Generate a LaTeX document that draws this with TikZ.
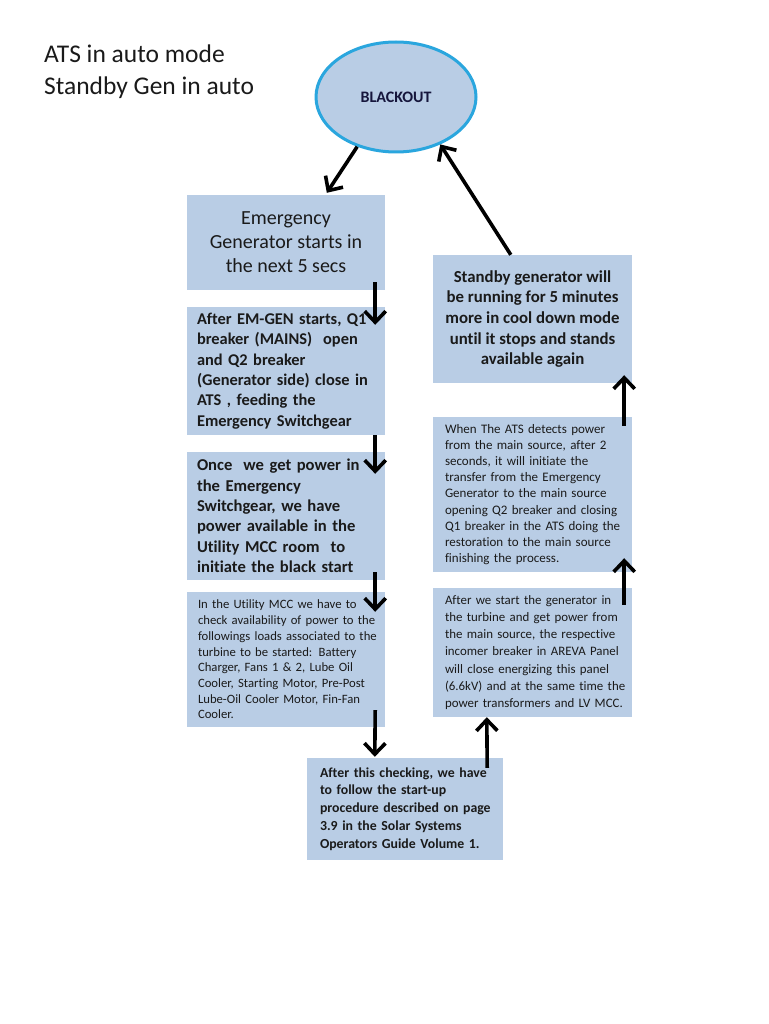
\documentclass[tikz,border=0pt]{standalone}
\usepackage{fontspec}
\setmainfont{Carlito}[Ligatures={NoCommon}]
\usetikzlibrary{shapes.geometric,arrows.meta,calc}
\definecolor{boxfill}{HTML}{B9CDE5}
\definecolor{ellline}{HTML}{2AA6DE}
\definecolor{txt}{HTML}{1A1A1A}
\newcommand\Ln[1]{\mbox{#1}}
\begin{document}
\begin{tikzpicture}[x=1pt,y=-1pt,
  box/.style={fill=boxfill, inner sep=0pt, text=txt},
  arr/.style={line width=3.6pt, -{Straight Barb[length=11pt,width=21pt]}},
  ttl/.style={anchor=base west, inner sep=0pt, font=\fontsize{25.5}{30}\selectfont, text=txt}]
\useasboundingbox (0,0) rectangle (768,1024);
\fill[white] (0,0) rectangle (768,1024);

\node[ttl] (t1) at (44,63) {ATS in auto mode};
\node[ttl] (t2) at (44,95) {Standby Gen in auto};

\node[ellipse, draw=ellline, line width=3pt, fill=boxfill, minimum width=160pt, minimum height=110pt, inner sep=0pt,
  font=\fontsize{16}{18}\selectfont\bfseries, text=txt!85!blue] (blk) at (396,97) {BLACKOUT};

\node[box, minimum width=198pt, minimum height=95pt, align=center, font=\fontsize{20}{24}\selectfont] (b1) at (286,242.5)
  {Emergency\\Generator starts in\\the next 5 secs};

\node[box, minimum width=198pt, minimum height=128pt, text width=178pt, align=left, font=\fontsize{16.4}{20.4}\selectfont\bfseries] (b2) at (286,371)
  {\Ln{After EM-GEN starts, Q1}\\\Ln{breaker (MAINS)\ \ open}\\\Ln{and Q2 breaker}\\\Ln{(Generator side) close in}\\\Ln{ATS , feeding the}\\\Ln{Emergency Switchgear}};

\node[box, minimum width=198pt, minimum height=128pt, text width=178pt, align=left, font=\fontsize{16.6}{20.4}\selectfont\bfseries] (b3) at (286,516)
  {\Ln{Once\ \ we get power in}\\\Ln{the Emergency}\\\Ln{Switchgear, we have}\\\Ln{power available in the}\\\Ln{Utility MCC room\ \ to}\\\Ln{initiate the black start}};

\node[box, minimum width=198pt, minimum height=135pt, text width=176pt, align=left, font=\fontsize{12.7}{15.7}\selectfont] (b4) at (286,659.5)
  {\Ln{In the Utility MCC we have to}\\\Ln{check availability of power to the}\\\Ln{followings loads associated to the}\\\Ln{turbine to be started: Battery}\\\Ln{Charger, Fans 1 \& 2, Lube Oil}\\\Ln{Cooler, Starting Motor, Pre-Post}\\\Ln{Lube-Oil Cooler Motor, Fin-Fan}\\\Ln{Cooler.}};

\node[box, minimum width=196pt, minimum height=102pt, text width=170pt, align=left, font=\fontsize{13.8}{17.8}\selectfont\bfseries] (bt) at (405,809)
  {\Ln{After this checking, we have}\\\Ln{to follow the start-up}\\\Ln{procedure described on page}\\\Ln{3.9 in the Solar Systems}\\\Ln{Operators Guide Volume 1.}};

\node[box, minimum width=199pt, minimum height=128pt, align=center, font=\fontsize{16.8}{20.7}\selectfont\bfseries] (sb) at (532.5,319)
  {Standby generator will\\be running for 5 minutes\\more in cool down mode\\until it stops and stands\\available again};

\node[box, minimum width=199pt, minimum height=155pt, text width=175pt, align=left, font=\fontsize{13}{16.2}\selectfont] (md) at (532.5,494.5)
  {\Ln{When The ATS detects power}\\\Ln{from the main source, after 2}\\\Ln{seconds, it will initiate the}\\\Ln{transfer from the Emergency}\\\Ln{Generator to the main source}\\\Ln{opening Q2 breaker and closing}\\\Ln{Q1 breaker in the ATS doing the}\\\Ln{restoration to the main source}\\\Ln{finishing the process.}};

\node[box, minimum width=199pt, minimum height=129pt, text width=175pt, align=left, font=\fontsize{12.9}{17.3}\selectfont] (rb) at (532.5,652.5)
  {\Ln{After we start the generator in}\\\Ln{the turbine and get power from}\\\Ln{the main source, the respective}\\\Ln{incomer breaker in AREVA Panel}\\\Ln{will close energizing this panel}\\\Ln{(6.6kV) and at the same time the}\\\Ln{power transformers and LV MCC.}};

\draw[arr] (blk.232) -- ($(b1.north west)+(140,-2)$);
\draw[arr] ($(sb.north west)+(78,0)$) -- (blk.313);
\draw[arr] ($(b1.south east)+(-10,-8)$) -- ($(b2.north east)+(-10,18)$);
\draw[arr] ($(b2.south east)+(-10,0)$) -- ($(b3.north east)+(-10,22)$);
\draw[arr] ($(b3.south east)+(-10,-8)$) -- ($(b4.north east)+(-10,20)$);
\draw[arr] ($(b4.south east)+(-10,-17)$) -- ($(bt.north west)+(68,-1)$);
\draw[arr] ($(bt.north east)+(-16,10)$) -- ($(rb.south west)+(54,0)$);
\draw[arr] ($(rb.north east)+(-8,17)$) -- ($(md.south east)+(-8,-14)$);
\draw[arr] ($(md.north east)+(-8,9)$) -- ($(sb.south east)+(-8,-8)$);
\end{tikzpicture}
\end{document}
